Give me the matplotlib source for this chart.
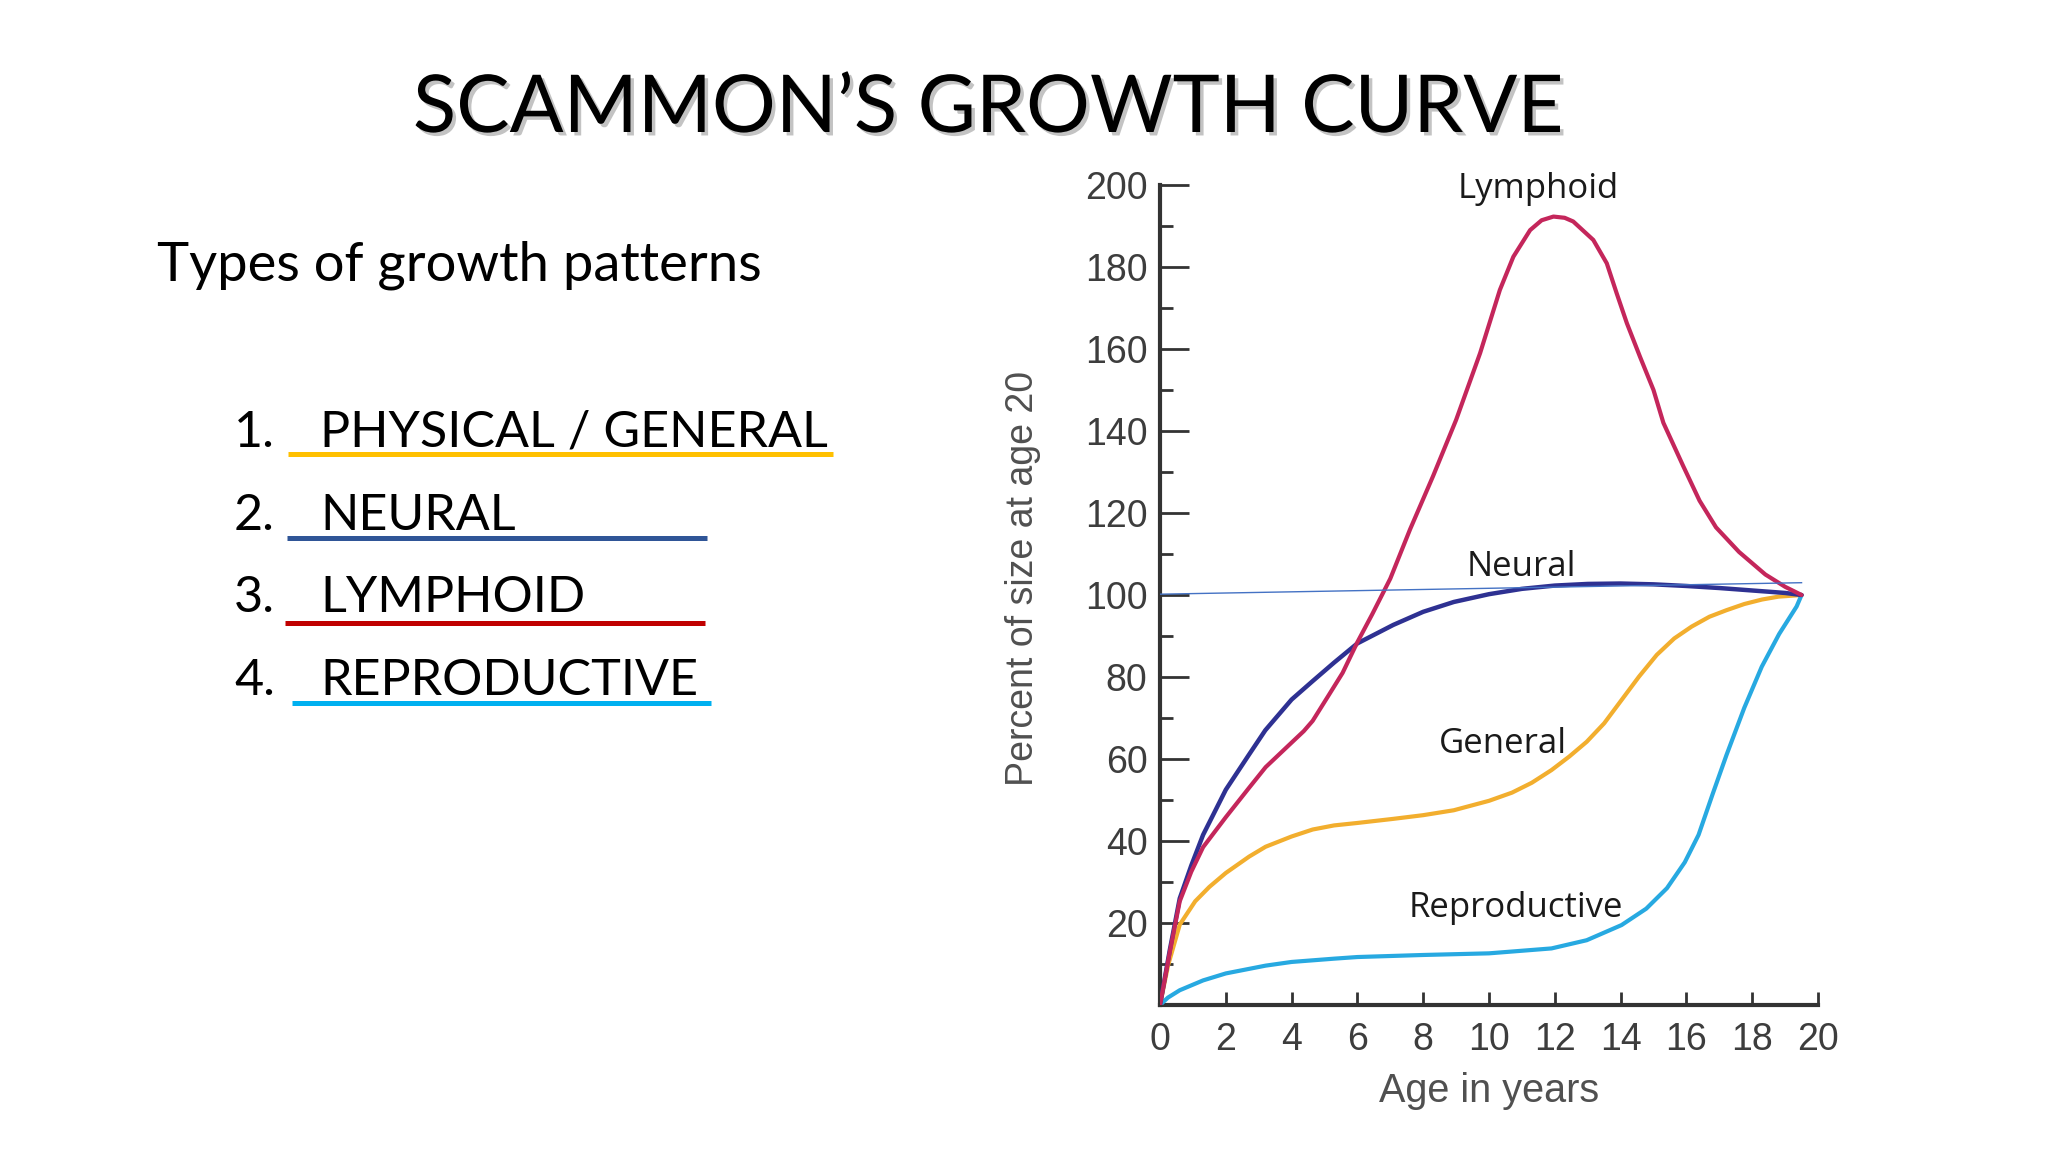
import matplotlib
matplotlib.use("Agg")
import matplotlib.pyplot as plt
import matplotlib.patheffects as pe
from matplotlib.lines import Line2D

# ---------------- data ----------------
neural_age = [0, 0.3, 0.6, 0.95, 1.31, 2, 2.7, 3.2, 4, 4.64, 5.29, 6, 7.09, 8, 8.93,
              10, 11, 12, 13, 14, 15, 16, 17, 18, 19, 19.5]
neural_val = [0, 13.5, 26, 34, 41.5, 52.5, 61, 67, 74.5, 79, 83.5, 88.2, 92.7, 95.9,
              98.3, 100.2, 101.5, 102.3, 102.7, 102.8, 102.6, 102.2, 101.7, 101.1,
              100.5, 100]

lymph_age = [0, 0.3, 0.6, 0.95, 1.31, 2, 2.71, 3.21, 4, 4.37, 4.64, 5.1, 5.55, 6, 6.45,
             7, 7.6, 8.3, 9.0, 9.73, 10.33, 10.74, 11.25, 11.6, 11.96, 12.3, 12.56,
             13.17, 13.58, 13.88, 14.19, 14.59, 15.0, 15.3, 15.9, 16.4, 16.9, 17.6,
             18.4, 19.0, 19.5]
lymph_val = [0, 13, 25.3, 32.5, 38.5, 45.8, 53, 58, 64, 66.8, 69.3, 75.2, 81, 88.5, 95.3,
             104, 116, 129, 142.7, 159, 174.4, 182.5, 189, 191.4, 192.3, 192, 191.1,
             186.6, 180.9, 173.6, 166.3, 158.1, 150, 142, 131.5, 123, 116.5, 110.5,
             105, 102, 100]

general_age = [0, 0.25, 0.6, 1.07, 1.5, 2, 2.71, 3.21, 4, 4.64, 5.29, 6, 7.09, 8, 8.93,
               10, 10.7, 11.3, 11.9, 12.44, 12.97, 13.5, 14.03, 14.56, 15.1, 15.63,
               16.16, 16.7, 17.22, 17.76, 18.3, 18.8, 19.5]
general_val = [0, 9.8, 19.6, 25.3, 28.8, 32.2, 36.2, 38.6, 41.1, 42.8, 43.8, 44.4, 45.4,
               46.3, 47.5, 49.8, 51.8, 54.2, 57.3, 60.6, 64.2, 68.7, 74.4, 80.1, 85.4,
               89.4, 92.3, 94.7, 96.3, 97.8, 98.9, 99.6, 100]

repro_age = [0, 0.24, 0.6, 1.31, 2, 3.21, 4, 5.29, 6, 8, 10, 11.9, 12.97, 14.03, 14.78,
             15.41, 15.95, 16.37, 16.8, 17.22, 17.76, 18.29, 18.82, 19.35, 19.5]
repro_val = [0, 1.8, 3.6, 6.0, 7.7, 9.6, 10.5, 11.3, 11.7, 12.2, 12.6, 13.8, 15.8, 19.5,
             23.5, 28.5, 34.8, 41.5, 51.5, 61, 72.5, 82.5, 90.5, 97.2, 100]

ref_line_age = [0, 19.5]
ref_line_val = [100.2, 103.0]

curve_labels = ["Lymphoid", "Neural", "General", "Reproductive"]
label_age = [11.49, 10.97, 10.43, 10.82]
label_val = [196.8, 104.6, 61.5, 21.5]

x_ticks = list(range(0, 21, 2))
y_major = list(range(20, 201, 20))
y_minor = list(range(10, 200, 20))

heading = "SCAMMON\u2019S GROWTH CURVE"
subheading = "Types of growth patterns"
item_numbers = ["1.", "2.", "3.", "4."]
item_texts = ["PHYSICAL / GENERAL", "NEURAL", "LYMPHOID", "REPRODUCTIVE"]
item_colors = ["#FFC000", "#2F5597", "#C00000", "#00B0F0"]

# ---------------- figure ----------------
W, H = 2048, 1152
fig = plt.figure(figsize=(W / 100, H / 100), dpi=100)
fig.patch.set_facecolor("white")


def fx(px):
    return px / W


def fy(py):
    return 1 - py / H


# title with subtle shadow
fig.text(fx(988), fy(132), heading, ha="center", va="baseline", fontsize=57.5,
         family="Lato", color="black",
         path_effects=[pe.SimplePatchShadow(offset=(2.5, -2.5), shadow_rgbFace="#888888",
                                            alpha=0.5), pe.Normal()])

fig.text(fx(157), fy(280), subheading, ha="left", va="baseline", fontsize=39.2,
         family="Lato", color="black")

item_baselines = [447, 530, 612, 695]
underline_y = [454, 538, 623, 703]
underline_x = [(288, 833), (287, 707), (285, 705), (292, 711)]
for num, txt, col, yb, uy, (ux0, ux1) in zip(item_numbers, item_texts, item_colors,
                                             item_baselines, underline_y, underline_x):
    fig.text(fx(234), fy(yb), num, ha="left", va="baseline", fontsize=36.2,
             family="Lato", color="black")
    fig.text(fx(320), fy(yb), txt, ha="left", va="baseline", fontsize=36.2,
             family="Lato", color="black")
    fig.add_artist(Line2D([fx(ux0), fx(ux1)], [fy(uy), fy(uy)], color=col,
                          linewidth=3.6, solid_capstyle="butt"))

# ---------------- chart ----------------
x0, x1 = 1160, 1818
y0, y1 = 1005, 185
ax = fig.add_axes([fx(x0), fy(y0), (x1 - x0) / W, (y0 - y1) / H])
ax.set_facecolor("white")
ax.set_xlim(0, 20)
ax.set_ylim(0, 200)

for s in ["top", "right"]:
    ax.spines[s].set_visible(False)
for s in ["left", "bottom"]:
    ax.spines[s].set_color("#333333")
    ax.spines[s].set_linewidth(3.0)

ax.set_xticks(x_ticks)
ax.set_yticks(y_major)
ax.set_yticks(y_minor, minor=True)
ax.tick_params(axis="x", direction="in", length=9.5, width=2.0, color="#333333",
               labelsize=27, labelcolor="#3d3d3d", pad=12)
ax.tick_params(axis="y", which="major", direction="in", length=21, width=2.0,
               color="#333333", labelsize=27, labelcolor="#3d3d3d", pad=9)
ax.tick_params(axis="y", which="minor", direction="in", length=9.5, width=2.0,
               color="#333333")
for lab in ax.get_xticklabels() + ax.get_yticklabels():
    lab.set_family("Liberation Sans")

ax.set_xlabel("Age in years", fontsize=28.5, color="#505050", family="Liberation Sans")
ax.xaxis.label.set_va("baseline")
ax.xaxis.set_label_coords(0.5, -(1102 - y0) / (y0 - y1))
ax.set_ylabel("Percent of size at age 20", fontsize=27, color="#505050",
              family="Liberation Sans")
ax.yaxis.label.set_va("baseline")
ax.yaxis.set_label_coords(-(x0 - 1033) / (x1 - x0), (y0 - 578) / (y0 - y1))

style = dict(solid_capstyle="round", solid_joinstyle="round")
ax.plot(general_age, general_val, color="#F2AE2E", lw=3.0, zorder=3, **style)
ax.plot(repro_age, repro_val, color="#27A9E1", lw=3.0, zorder=3, **style)
ax.plot(neural_age, neural_val, color="#2E3192", lw=3.2, zorder=4, **style)
ax.plot(lymph_age, lymph_val, color="#C4265B", lw=3.0, zorder=5, **style)
ax.plot(ref_line_age, ref_line_val, color="#4472C4", lw=1.0, zorder=6)

for name, a, v in zip(curve_labels, label_age, label_val):
    ax.text(a, v, name, ha="center", va="baseline", fontsize=25, family="Open Sans",
            color="#1a1a1a", zorder=7)

fig.savefig("out.png", dpi=100, facecolor="white")
